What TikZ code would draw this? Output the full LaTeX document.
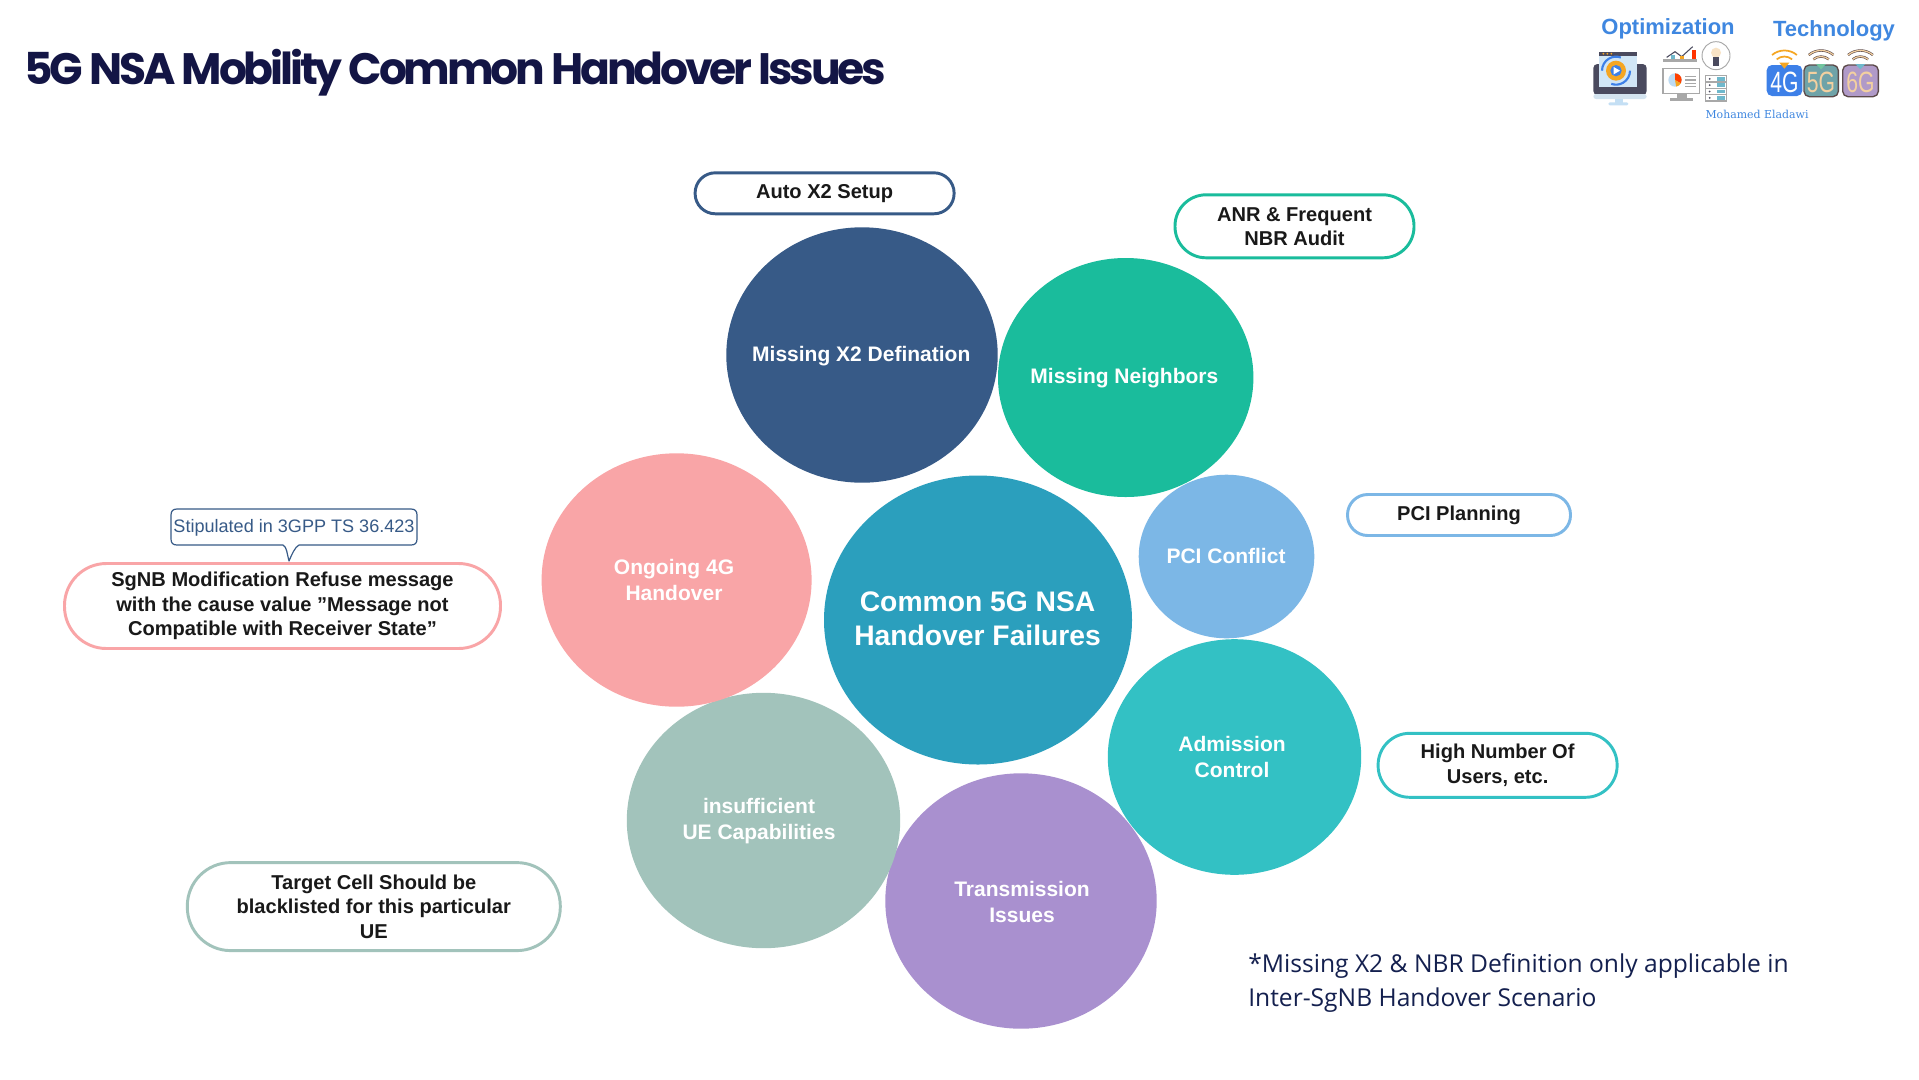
\documentclass[tikz,border=0pt]{standalone}
\usepackage{graphicx}
\usepackage{fontspec}
\setmainfont{Liberation Sans}
\newfontfamily\titlefont[LetterSpace=-7.2]{Poppins Bold}
\newfontfamily\notefont{Open Sans}
\newfontfamily\authorfont{DejaVu Serif}
\usetikzlibrary{shapes.geometric,backgrounds}
\definecolor{cCentre}{HTML}{2B9FBD}
\definecolor{cXtwo}{HTML}{375A87}
\definecolor{cNbr}{HTML}{1ABC9C}
\definecolor{cPci}{HTML}{7CB7E6}
\definecolor{cAdm}{HTML}{33C1C4}
\definecolor{cTrans}{HTML}{A990CF}
\definecolor{cInsuf}{HTML}{A2C3BB}
\definecolor{cOngo}{HTML}{F9A5A7}
\definecolor{cTitle}{HTML}{131545}
\definecolor{cNote}{HTML}{14204F}
\definecolor{cHead}{HTML}{3F87E0}
\definecolor{cIconDark}{HTML}{4A4A5E}
\definecolor{cIconGray}{HTML}{A8A8A8}
\definecolor{cIconTeal}{HTML}{6FB8CC}
\definecolor{cIconOrange}{HTML}{F5A623}
\definecolor{cG}{HTML}{3D80E8}
\definecolor{cGfive}{HTML}{6FA3A8}
\definecolor{cGsix}{HTML}{B09AC8}
\definecolor{cPeach}{HTML}{F3D0A0}
\definecolor{cBrown}{HTML}{5C4A4A}
\tikzset{
  circ/.style n args={3}{ellipse,inner sep=0pt,minimum width=#1*1.5pt,minimum height=#2*1.5pt,fill=#3},
  ctext/.style={inner sep=0pt,text=white,align=center,font=\fontsize{15.75pt}{19.7pt}\bfseries},
  pill/.style n args={3}{rectangle,inner sep=0pt,minimum width=#1*0.75pt,minimum height=#2*0.75pt,rounded corners=#2*0.37pt,draw=#3,line width=2.2pt,fill=white,text=black!90,align=center,font=\fontsize{15.05pt}{18.2pt}\bfseries},
  link/.style={draw=black!60,line width=1.7pt},
  head/.style={text=cHead,font=\fontsize{16.5pt}{18pt}\bfseries,inner sep=0pt,anchor=base},
  gtext/.style={inner sep=0pt,font=\fontsize{22pt}{22pt}\selectfont},
}
\begin{document}
\begin{tikzpicture}[x=0.75pt,y=-0.75pt]
\useasboundingbox (0,0) rectangle (1919,1079);
\fill[white] (0,0) rectangle (1919,1079);

\node[anchor=base west,inner sep=0pt,text=cTitle,font=\titlefont\fontsize{33pt}{36pt}\selectfont] (title) at (24,84) {5G NSA Mobility Common Handover Issues};

\node[circ={154}{144.5}{cCentre}] (centre) at (978,620) {};
\node[circ={135.7}{127.7}{cXtwo}] (xtwo) at (862,355) {};
\node[circ={127.7}{119.5}{cNbr}] (nbr) at (1125.7,377.5) {};
\node[circ={87.8}{81.8}{cPci}] (pci) at (1226.5,556.5) {};
\node[circ={126.7}{117.8}{cAdm}] (adm) at (1234.5,757) {};
\node[circ={135.7}{127.7}{cTrans}] (trans) at (1021,901) {};
\node[circ={136.7}{127.7}{cInsuf}] (insuf) at (763.5,820.5) {};
\node[circ={135}{126.7}{cOngo}] (ongo) at (676.6,580) {};

\node[ctext,font=\fontsize{21.2pt}{25.5pt}\bfseries] (centreT) at (977.6,619) {Common 5G NSA\\Handover Failures};
\node[ctext] (xtwoT) at (861.3,356) {Missing X2 Defination};
\node[ctext] (nbrT) at (1124.4,378) {Missing Neighbors};
\node[ctext] (pciT) at (1226,556) {PCI Conflict};
\node[ctext] (admT) at (1232,757) {Admission\\ Control};
\node[ctext] (transT) at (1022,902) {Transmission\\ Issues};
\node[ctext] (insufT) at (759,821) {insufficient\\UE Capabilities};
\node[ctext] (ongoT) at (674,580) {Ongoing 4G\\Handover};

\begin{scope}[on background layer]
\foreach \t in {xtwo,nbr,pci,adm,trans,insuf,ongo}
  \draw[link] (centre.center) -- (\t.center);
\end{scope}

\node[pill={259}{41}{cXtwo}] (pxtwo) at (824.6,193.3) {Auto X2 Setup};
\node[pill={239}{63}{cNbr}] (pnbr) at (1294.5,226.3) {ANR \& Frequent\\NBR Audit};
\node[pill={223}{41}{cPci}] (ppci) at (1459,515) {PCI Planning};
\node[pill={239}{64}{cAdm}] (padm) at (1497.6,765.3) {High Number Of\\Users, etc.};
\node[pill={436}{85}{cOngo}] (pongo) at (282.5,606) {SgNB Modification Refuse message\\with the cause value \char34 Message not\\Compatible with Receiver State\char34};
\node[pill={373}{88}{cInsuf}] (pinsuf) at (373.8,906.6) {Target Cell Should be\\blacklisted for this particular\\UE};

\coordinate (tailtip) at (289,561);
\draw[cXtwo,line width=0.9pt,line join=round,fill=white]
  (177,509) -- (411,509) .. controls (415,509) and (417,511) .. (417,515) -- (417,539)
  .. controls (417,543) and (415,545) .. (411,545) -- (299,545)
  .. controls (295,547) and (292,554) .. (tailtip)
  .. controls (287,554) and (287,547) .. (283,545) -- (177,545)
  .. controls (173,545) and (171,543) .. (171,539) -- (171,515)
  .. controls (171,511) and (173,509) .. (177,509) -- cycle;
\node[inner sep=0pt,text=cXtwo,font=\fontsize{13.55pt}{16pt}\selectfont] (cite) at (294,528) {Stipulated in 3GPP TS 36.423};

\node[anchor=north west,inner sep=0pt,text=cNote,align=left,font=\notefont\fontsize{18.46pt}{25.7pt}\selectfont] (note) at (1248,953) {*Missing X2 \& NBR Definition only applicable in\\Inter-SgNB Handover Scenario};

\node[head] (hopt) at (1668,34) {Optimization};
\node[head] (htech) at (1834,36) {Technology};
\node[anchor=base,inner sep=0pt,text=cHead,font=\authorfont\fontsize{8.2pt}{10pt}\selectfont] (author) at (1757,118) {Mohamed Eladawi};

% icons, in the reference's 3x zoom coordinates
\begin{scope}[shift={(1560,0)},x=0.25pt,y=-0.25pt]
  % monitor with gear
  \fill[rounded corners=3pt,cIconDark] (100,192) rectangle (260,285);
  \fill[rounded corners=2pt,black!12!cPci!30] (100,282) rectangle (260,297);
  \fill[cPci!45] (165,297) rectangle (190,310);
  \fill[rounded corners=1pt,cPci!45] (145,307) rectangle (205,316);
  \fill[cPci!35] (118,155) rectangle (232,262);
  \fill[cIconDark] (118,155) rectangle (232,168);
  \fill[cIconOrange] (130,161) circle (3);
  \fill[cIconOrange] (142,161) circle (3);
  \fill[cIconOrange] (154,161) circle (3);
  \draw[cG,line width=1.6pt] (168,212) ++(180:42) arc (180:290:42);
  \draw[cG,line width=1.6pt] (168,212) ++(0:42) arc (0:110:42);
  \fill[cIconOrange] (168,212) circle (30);
  \fill[cG] (168,212) circle (17);
  \fill[white] (161,201) -- (180,212) -- (161,223) -- cycle;
  % chart
  \fill[cIconGray] (310,178) rectangle (412,185);
  \draw[cIconDark,line width=0.8pt] (320,172) -- (345,155) -- (365,170) -- (398,140);
  \fill[cIconTeal] (333,165) rectangle (345,178);
  \fill[cIconOrange] (360,168) rectangle (372,178);
  \fill[red!60!orange] (395,150) rectangle (408,178);
  % bulb
  \draw[cIconGray,line width=0.7pt] (468,167) circle (42);
  \fill[cPeach!60] (468,158) circle (15);
  \fill[cIconDark] (458,172) rectangle (478,198);
  % screen
  \draw[cIconGray,fill=white,line width=1.2pt] (309,205) rectangle (418,280);
  \fill[cIconGray] (350,280) rectangle (380,296);
  \fill[cIconGray] (330,295) rectangle (400,302);
  \fill[cPci!50] (345,240) circle (20);
  \fill[red!50!orange] (345,240) -- ++(-90:20) arc (-90:30:20) -- cycle;
  \fill[cIconOrange] (345,240) -- ++(30:20) arc (30:80:20) -- cycle;
  \foreach \yy in {228,238,248,258}
    \fill[cIconGray] (375,\yy) rectangle (408,\yy+4);
  % server
  \foreach \yy in {227,246,265,284} {
    \draw[cIconGray,fill=white,line width=0.8pt] (437,\yy) rectangle (500,\yy+19);
    \fill[cIconTeal] (470,\yy+4) rectangle (496,\yy+15);
    \fill[cIconDark] (449,\yy+9.5) circle (3);
  }
  % 4G
  \fill[rounded corners=4pt,cG] (620,195) rectangle (727,288);
  \node[gtext,text=white] (ig4) at (673,246) {\scalebox{0.72}[1]{4G}};
  \draw[cIconOrange,line width=1.3pt] (650,178) arc (-130:-50:36);
  \draw[cIconOrange,line width=1.3pt] (636,165) arc (-130:-50:58);
  \fill[cIconOrange] (658,188) -- (688,188) -- (673,206) -- cycle;
  % 5G
  \draw[rounded corners=4pt,cBrown,fill=cGfive,line width=1pt] (732,195) rectangle (835,290);
  \node[gtext,text=cPeach] (ig5) at (783,246) {\scalebox{0.72}[1]{5G}};
  \draw[cBrown,line width=1.8pt] (760,178) arc (-130:-50:36);
  \draw[cPeach,line width=0.9pt] (760,178) arc (-130:-50:36);
  \draw[cBrown,line width=1.8pt] (746,165) arc (-130:-50:58);
  \draw[cPeach,line width=0.9pt] (746,165) arc (-130:-50:58);
  \fill[cNbr!60!cPeach] (768,192) -- (798,192) -- (783,208) -- cycle;
  % 6G
  \draw[rounded corners=4pt,cBrown,fill=cGsix,line width=1pt] (848,195) rectangle (955,290);
  \node[gtext,text=cPeach] (ig6) at (901,246) {\scalebox{0.72}[1]{6G}};
  \draw[cBrown,line width=1.8pt] (878,178) arc (-130:-50:36);
  \draw[cPeach,line width=0.9pt] (878,178) arc (-130:-50:36);
  \draw[cBrown,line width=1.8pt] (864,165) arc (-130:-50:58);
  \draw[cPeach,line width=0.9pt] (864,165) arc (-130:-50:58);
  \fill[cIconTeal] (886,192) -- (916,192) -- (901,208) -- cycle;
\end{scope}
\end{tikzpicture}
\end{document}
